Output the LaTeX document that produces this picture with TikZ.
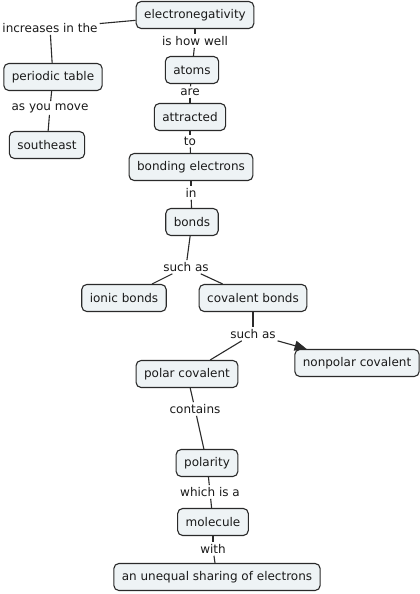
\documentclass[tikz,border=0pt]{standalone}
\usepackage{fontspec}
\setmainfont{DejaVu Sans}
\usetikzlibrary{arrows.meta}
\definecolor{boxfill}{HTML}{EEF3F5}
\definecolor{boxline}{HTML}{2A2A2A}
\definecolor{txt}{HTML}{1A1A1A}
\begin{document}
\begin{tikzpicture}[x=1pt,y=-1pt,
  concept/.style={draw=boxline,fill=boxfill,rounded corners=5pt,line width=1.1pt,
    inner xsep=8pt,inner ysep=0pt,minimum height=27pt,font=\fontsize{12}{14}\selectfont},
  lbl/.style={inner sep=2pt,font=\fontsize{12}{14}\selectfont},
  link/.style={draw=boxline,line width=1.1pt},
  every node/.style={text=txt}]
\useasboundingbox (0,0) rectangle (420,594);
\fill[white] (0,0) rectangle (420,594);
% concepts
\node[concept] (en) at (195,15) {electronegativity};
\node[concept] (pt) at (53,77) {periodic table};
\node[concept] (se) at (47,145) {southeast};
\node[concept] (at) at (192,70) {atoms};
\node[concept] (att) at (190,117) {attracted};
\node[concept] (be) at (191,167) {bonding electrons};
\node[concept] (bo) at (192,222) {bonds};
\node[concept] (io) at (124,298) {ionic bonds};
\node[concept] (co) at (253,298) {covalent bonds};
\node[concept] (np) at (357,363) {nonpolar covalent};
\node[concept] (pc) at (187,374) {polar covalent};
\node[concept] (po) at (207,463) {polarity};
\node[concept] (mo) at (213,522) {molecule};
\node[concept] (un) at (217,577) {an unequal sharing of electrons};
% labels
\node[lbl] (l1) at (50,28) {increases in the};
\node[lbl] (l2) at (50,108) {as you move};
\node[lbl] (l3) at (195,41) {is how well};
\node[lbl] (l4) at (190,92) {are};
\node[lbl] (l5) at (190,141) {to};
\node[lbl] (l6) at (191,193) {in};
\node[lbl] (l7) at (186,267) {such as};
\node[lbl] (l8) at (253,334) {such as};
\node[lbl] (l9) at (195,409) {contains};
\node[lbl] (l10) at (210,492) {which is a};
\node[lbl] (l11) at (213,549) {with};
% links
\draw[link] (en) -- (l1);
\draw[link] (l1) -- (pt);
\draw[link] (pt) -- (l2);
\draw[link] (l2) -- (se);
\draw[link] (en) -- (l3);
\draw[link] (l3) -- (at);
\draw[link] (at) -- (l4);
\draw[link] (l4) -- (att);
\draw[link] (att) -- (l5);
\draw[link] (l5) -- (be);
\draw[link] (be) -- (l6);
\draw[link] (l6) -- (bo);
\draw[link] (bo) -- (l7);
\draw[link] (l7) -- (io);
\draw[link] (l7) -- (co);
\draw[link] (co) -- (l8);
\draw[link] (l8) -- (pc);
\draw[link,-{Triangle[length=12pt,width=10pt]}] (l8) -- (np);
\draw[link] (pc) -- (l9);
\draw[link] (l9) -- (po);
\draw[link] (po) -- (l10);
\draw[link] (l10) -- (mo);
\draw[link] (mo) -- (l11);
\draw[link] (l11) -- (un);
\end{tikzpicture}
\end{document}
